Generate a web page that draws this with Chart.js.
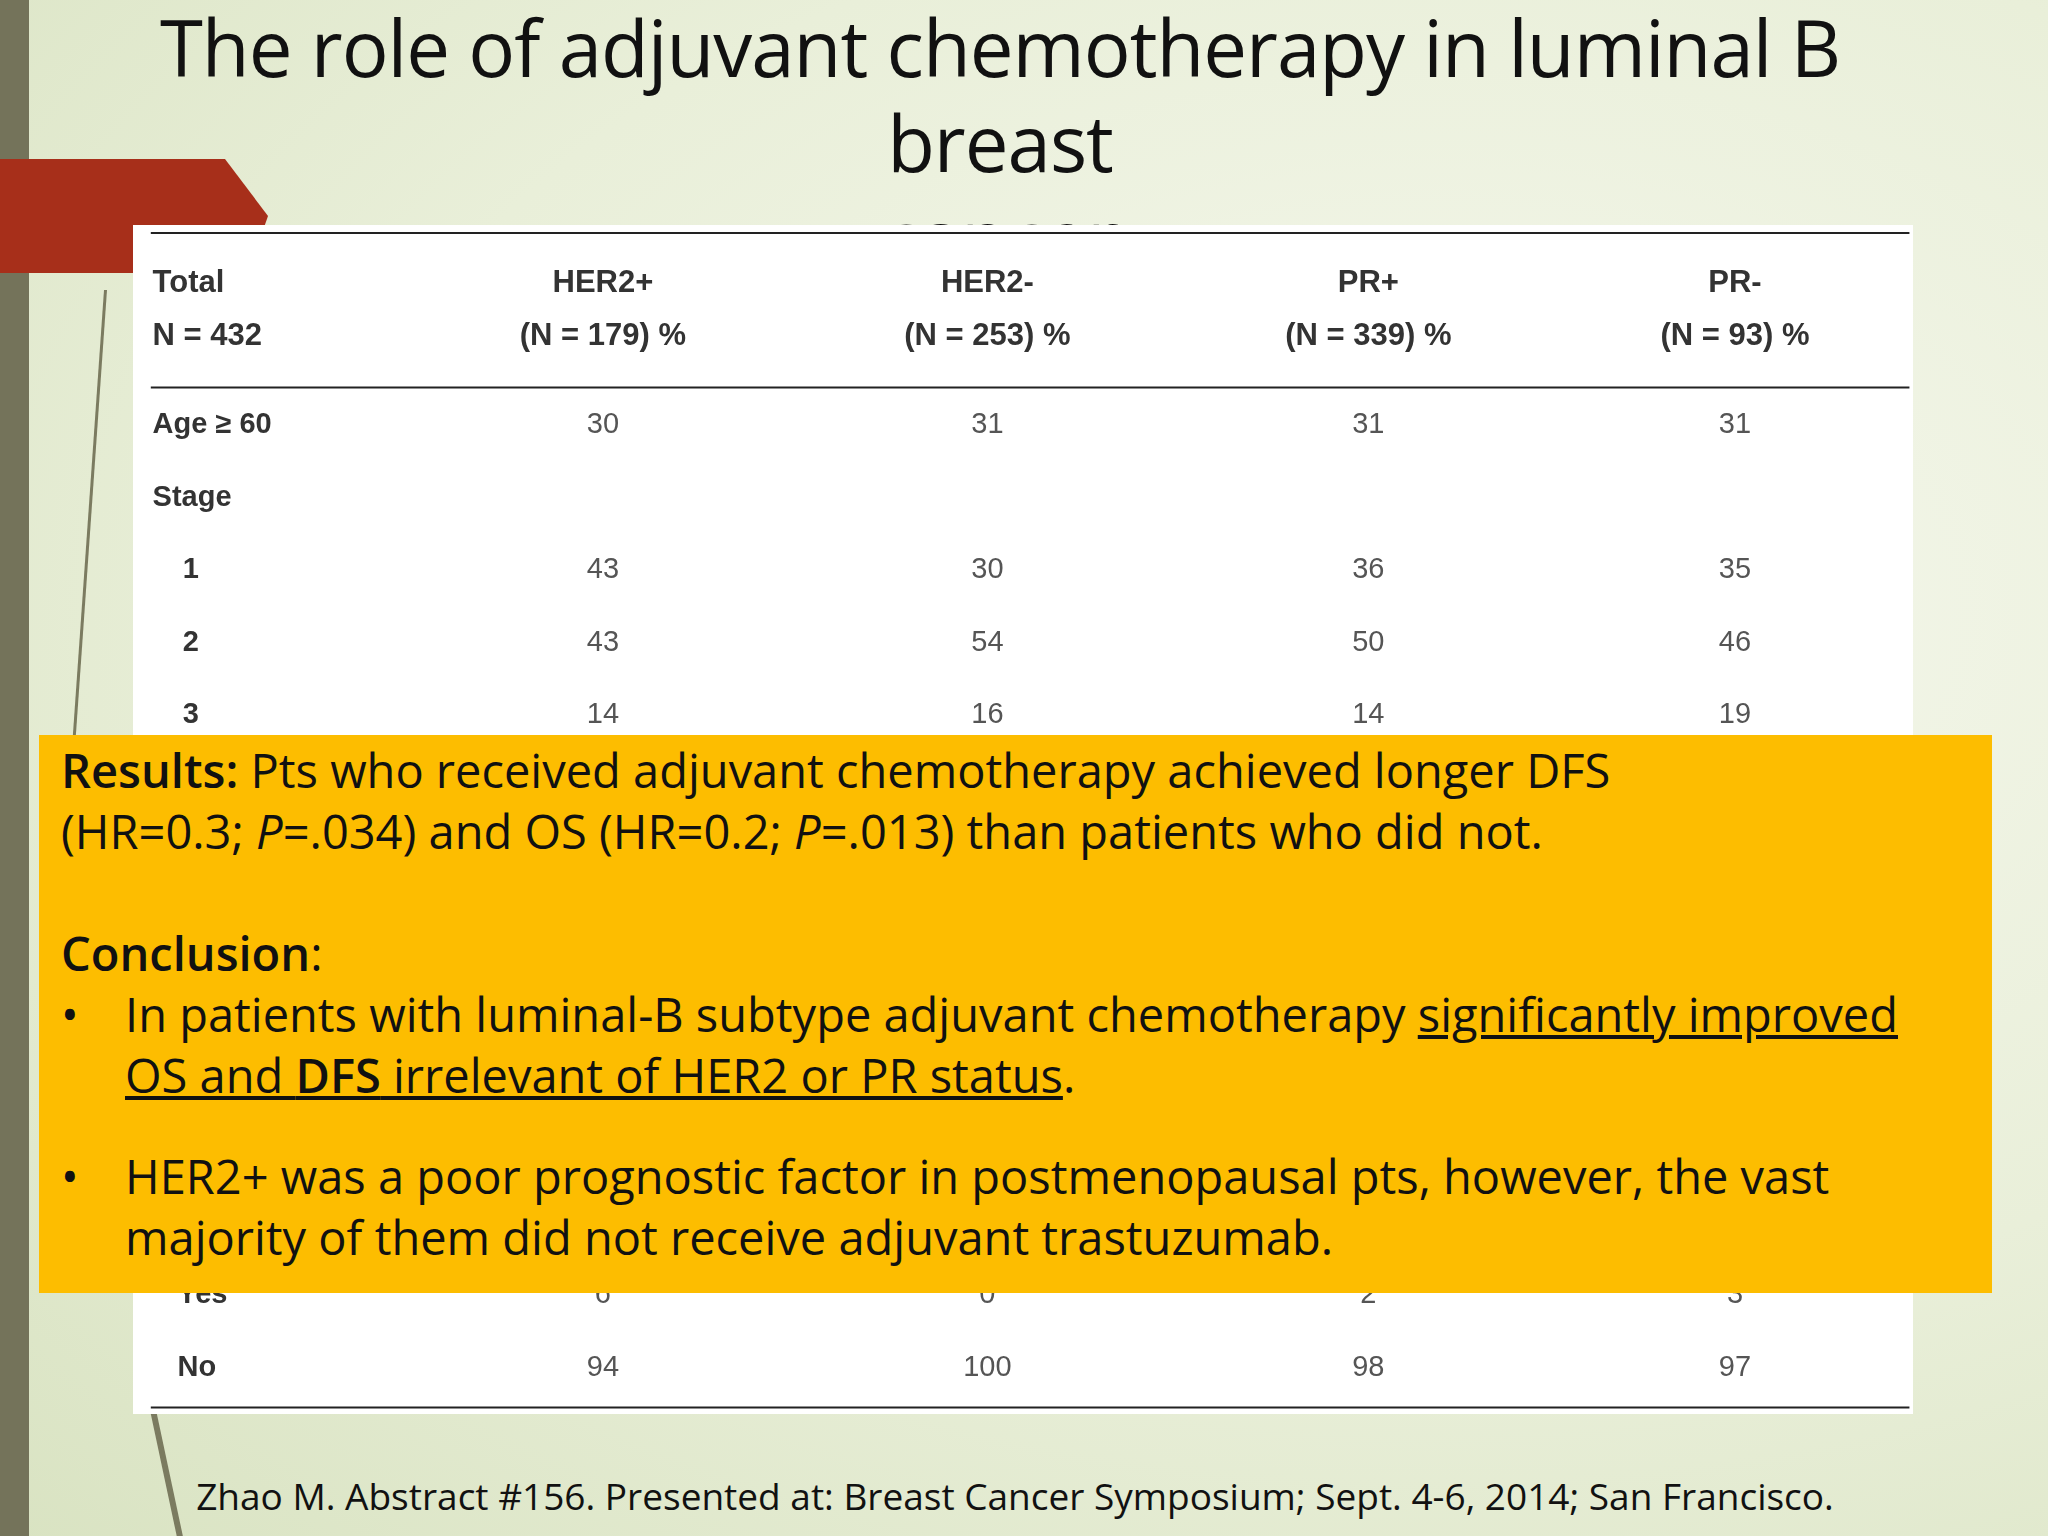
<!DOCTYPE html>
<html><head><meta charset="utf-8">
<script src="https://cdn.jsdelivr.net/npm/chart.js@4/dist/chart.umd.min.js"></script>
<style>
html,body{margin:0;padding:0;}
body{width:2048px;height:1536px;position:relative;overflow:hidden;
 background:radial-gradient(ellipse at 70% 40%,#f6f8ee 0%,#e9efd9 55%,#d9e3c2 100%);font-family:"Open Sans",sans-serif;}
#bar{position:absolute;left:0;top:0;width:29px;height:1536px;background:#74735a;}
#red{position:absolute;left:0;top:159px;width:270px;height:114px;background:#a72f1a;
 clip-path:polygon(0 0,225px 0,268px 57px,248px 114px,0 114px);}
#title{position:absolute;left:40px;width:1920px;top:0;text-align:center;font-size:78px;line-height:95px;color:#111;letter-spacing:-1px;}
#box{position:absolute;left:133px;top:225px;width:1780px;height:1189px;background:#fff;}
#wrap{position:absolute;left:133px;top:225px;width:1780px;height:1189px;}
#orange{position:absolute;left:39px;top:735px;width:1953px;height:558px;background:#fdbd00;box-sizing:border-box;padding:5px 22px;font-size:47px;line-height:61px;color:#111;}
#orange p{margin:0;}
.b{display:flex;}
.b span.d{width:64px;flex:none;}
#foot{position:absolute;left:0;width:2030px;top:1470px;text-align:center;font-size:37px;color:#111;}
.ln{position:absolute;width:4px;background:#7b7b60;transform-origin:top;}
</style></head>
<body>
<div id="bar"></div>
<div class="ln" style="left:104px;top:290px;height:600px;transform:rotate(4deg);width:3px"></div>
<div class="ln" style="left:150px;top:1410px;height:130px;transform:rotate(-12deg);width:6px"></div>
<div id="red"></div>
<div id="title">The role of adjuvant chemotherapy in luminal B breast<br>cancer</div>
<div id="box"></div>
<div id="wrap"><canvas id="c"></canvas></div>
<div id="orange">
<p><b style="font-weight:600">Results:</b> Pts who received adjuvant chemotherapy achieved longer DFS<br>(HR=0.3; <i>P</i>=.034) and OS (HR=0.2; <i>P</i>=.013) than patients who did not.</p>
<p>&nbsp;</p>
<p><span style="font-weight:600">Conclusion</span>:</p>
<div class="b"><span class="d">•</span><span>In patients with luminal-B subtype adjuvant chemotherapy <u>significantly improved</u><br><u>OS and <b style="font-weight:600">DFS</b> irrelevant of HER2 or PR status</u>.</span></div>
<div class="b" style="margin-top:40px"><span class="d">•</span><span>HER2+ was a poor prognostic factor in postmenopausal pts, however, the vast<br>majority of them did not receive adjuvant trastuzumab.</span></div>
</div>
<div id="foot">Zhao M. Abstract #156. Presented at: Breast Cancer Symposium; Sept. 4-6, 2014; San Francisco.</div>
<script>
// table contents
const headTop = ['Total', 'HER2+', 'HER2-', 'PR+', 'PR-'];
const headBottom = ['N = 432', '(N = 179) %', '(N = 253) %', '(N = 339) %', '(N = 93) %'];
const rowLabels = ['Age \u2265 60', 'Stage', '1', '2', '3', '', '', '', '', '', '', '', 'Yes', 'No'];
const her2Pos = [30, null, 43, 43, 14, null, null, null, null, null, null, null, 6, 94];
const her2Neg = [31, null, 30, 54, 16, null, null, null, null, null, null, null, 0, 100];
const prPos = [31, null, 36, 50, 14, null, null, null, null, null, null, null, 2, 98];
const prNeg = [31, null, 35, 46, 19, null, null, null, null, null, null, null, 3, 97];

const cols = [her2Pos, her2Neg, prPos, prNeg];
const colX = [0.055, 1.32, 2.4, 3.47, 4.5];
const indented = [2, 3, 4, 12, 13];

const tablePlugin = {
  id: 'table',
  afterDraw(chart) {
    const ctx = chart.ctx, x = chart.scales.x, y = chart.scales.y;
    ctx.save();
    ctx.strokeStyle = '#222'; ctx.lineWidth = 2;
    [-2.65, -0.52, 13.55].forEach(v => {
      ctx.beginPath(); ctx.moveTo(x.getPixelForValue(0.05), y.getPixelForValue(v));
      ctx.lineTo(x.getPixelForValue(4.99), y.getPixelForValue(v)); ctx.stroke();
    });
    ctx.textBaseline = 'middle';
    ctx.font = 'bold 31px "Liberation Sans", Arial';
    ctx.fillStyle = '#333';
    headTop.forEach((t, i) => {
      ctx.textAlign = i ? 'center' : 'left';
      ctx.fillText(t, x.getPixelForValue(colX[i]), y.getPixelForValue(-1.95));
      ctx.fillText(headBottom[i], x.getPixelForValue(colX[i]), y.getPixelForValue(-1.22));
    });
    rowLabels.forEach((t, r) => {
      ctx.font = 'bold 29px "Liberation Sans", Arial'; ctx.fillStyle = '#333'; ctx.textAlign = 'left';
      const lx = indented.includes(r) ? (r >= 12 ? 0.125 : 0.14) : 0.055;
      ctx.fillText(t, x.getPixelForValue(lx), y.getPixelForValue(r));
      ctx.font = '29px "Liberation Sans", Arial'; ctx.fillStyle = '#555'; ctx.textAlign = 'center';
      cols.forEach((c, k) => {
        if (c[r] !== null) ctx.fillText(String(c[r]), x.getPixelForValue(colX[k + 1]), y.getPixelForValue(r));
      });
    });
    ctx.restore();
  }
};

new Chart(document.getElementById('c'), {
  type: 'scatter',
  data: { datasets: [{ data: [], pointRadius: 0 }] },
  options: {
    responsive: true, maintainAspectRatio: false, animation: false,
    layout: { padding: 0 },
    plugins: { legend: { display: false }, tooltip: { enabled: false } },
    scales: {
      x: { type: 'linear', min: 0, max: 5, display: false },
      y: { type: 'linear', min: -2.76, max: 13.64, reverse: true, display: false }
    }
  },
  plugins: [tablePlugin]
});
</script>
</body></html>
